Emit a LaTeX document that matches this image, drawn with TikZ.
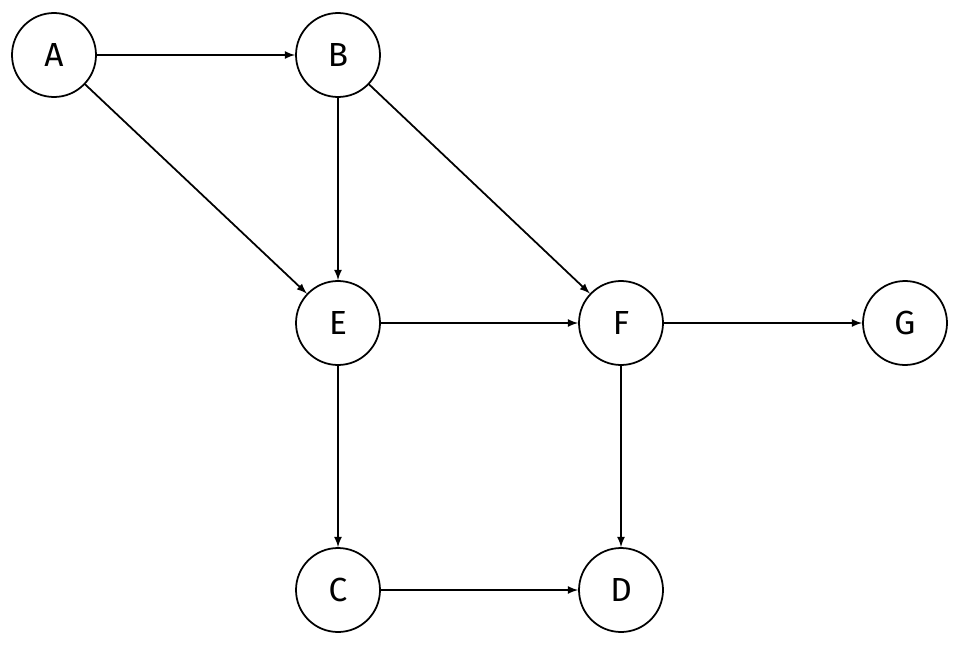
\documentclass[tikz,border=0pt]{standalone}
\usepackage{fontspec}
\setmainfont{Fira Sans}
\begin{document}
\begin{tikzpicture}[line
	join=round,line
	cap=round,font=\fontsize{19}{22}\selectfont,>=latex,
	vertex/.style={draw,circle,line width=1pt,minimum size=1.68cm,inner sep=0pt}]
	\useasboundingbox (0,0) rectangle (19.2,12.92);
	\node[vertex] (A) at (1.08,11.82) {A};
	\node[vertex] (B) at (6.76,11.82) {B};
	\node[vertex] (E) at (6.76,6.46) {E};
	\node[vertex] (F) at (12.42,6.46) {F};
	\node[vertex] (G) at (18.10,6.46) {G};
	\node[vertex] (C) at (6.76,1.12) {C};
	\node[vertex] (D) at (12.42,1.12) {D};
	\begin{scope}[->,line width=1pt]
		\draw (A)--(B);
		\draw (A)--(E);
		\draw (B)--(E);
		\draw (B)--(F);
		\draw (E)--(F);
		\draw (F)--(G);
		\draw (E)--(C);
		\draw (F)--(D);
		\draw (C)--(D);
	\end{scope}
\end{tikzpicture}
\end{document}
